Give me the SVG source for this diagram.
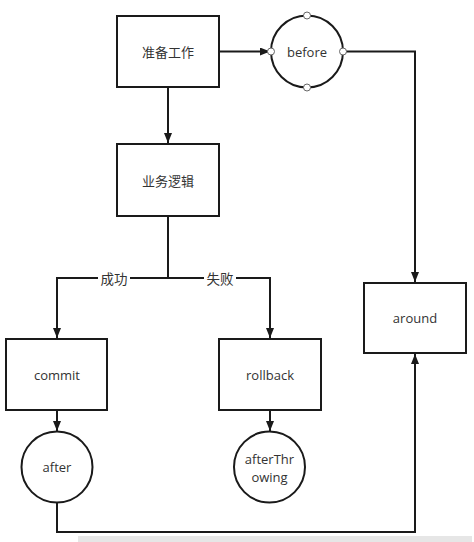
<svg xmlns="http://www.w3.org/2000/svg" width="474" height="542" viewBox="0 0 474 542">
  <style>
    .box { fill: #ffffff; stroke: #1a1a1a; stroke-width: 2; }
    .edge { fill: none; stroke: #1a1a1a; stroke-width: 2; }
    .lbl { font-family: "Noto Sans CJK SC", "Noto Sans", sans-serif; font-size: 13px; fill: #333333; text-anchor: middle; dominant-baseline: central; }
    .lat { font-family: "Open Sans", "Noto Sans", sans-serif; font-size: 13px; fill: #333333; text-anchor: middle; dominant-baseline: central; }
    .elbl { font-family: "Noto Sans CJK SC", "Noto Sans", sans-serif; font-size: 13.5px; fill: #333333; text-anchor: middle; dominant-baseline: central; }
    .handle { fill: #ffffff; stroke: #666666; stroke-width: 1; }
  </style>
  <defs>
    <marker id="arr" markerWidth="10" markerHeight="8" refX="10" refY="4" orient="auto" markerUnits="userSpaceOnUse">
      <path d="M0,0 L10,4 L0,8 Z" fill="#1a1a1a"/>
    </marker>
  </defs>
  <rect x="0" y="0" width="474" height="542" fill="#ffffff"/>
  <rect x="78" y="536" width="394" height="6" fill="#e6e6e6"/>

  <g id="connectors">
    <path class="edge" d="M168,87 L168,143" marker-end="url(#arr)"/>
    <path class="edge" d="M219,51.5 L270,51.5" marker-end="url(#arr)"/>
    <path class="edge" d="M343,51.5 L415,51.5 L415,282" marker-end="url(#arr)"/>
    <path class="edge" d="M168,216 L168,278"/>
    <path class="edge" d="M168,278 L57,278 L57,338" marker-end="url(#arr)"/>
    <path class="edge" d="M168,278 L270,278 L270,338" marker-end="url(#arr)"/>
    <rect x="98" y="269" width="32" height="18" fill="#ffffff"/>
    <text class="elbl" x="114" y="278">成功</text>
    <rect x="204" y="269" width="32" height="18" fill="#ffffff"/>
    <text class="elbl" x="220" y="278">失败</text>
    <path class="edge" d="M57,410 L57,431" marker-end="url(#arr)"/>
    <path class="edge" d="M270,410 L270,431" marker-end="url(#arr)"/>
    <path class="edge" d="M57,503 L57,532 L415,532 L415,354" marker-end="url(#arr)"/>
  </g>

  <g id="node-prepare">
    <rect class="box" x="117" y="16" width="102" height="71"/>
    <text class="lbl" x="168" y="51.5">准备工作</text>
  </g>
  <g id="node-before">
    <circle class="box" cx="307" cy="51.5" r="36"/>
    <text class="lat" x="307" y="51.5">before</text>
    <circle class="handle" cx="271" cy="51.5" r="3.5"/>
    <circle class="handle" cx="343" cy="51.5" r="3.5"/>
    <circle class="handle" cx="307" cy="15.5" r="3.5"/>
    <circle class="handle" cx="307" cy="87.5" r="3.5"/>
  </g>
  <g id="node-logic">
    <rect class="box" x="117" y="144" width="102" height="72"/>
    <text class="lbl" x="168" y="180">业务逻辑</text>
  </g>
  <g id="node-around">
    <rect class="box" x="364" y="283" width="102" height="70"/>
    <text class="lat" x="415" y="318">around</text>
  </g>
  <g id="node-commit">
    <rect class="box" x="6" y="339" width="101" height="71"/>
    <text class="lat" x="57" y="374.5">commit</text>
  </g>
  <g id="node-rollback">
    <rect class="box" x="219" y="339" width="102" height="71"/>
    <text class="lat" x="270" y="374.5">rollback</text>
  </g>
  <g id="node-after">
    <circle class="box" cx="57" cy="467" r="35.5"/>
    <text class="lat" x="57" y="467">after</text>
  </g>
  <g id="node-afterThrowing">
    <circle class="box" cx="269.5" cy="467" r="35.5"/>
    <text class="lat" x="269.5" y="458.5">afterThr</text>
    <text class="lat" x="269.5" y="476.5">owing</text>
  </g>
</svg>
